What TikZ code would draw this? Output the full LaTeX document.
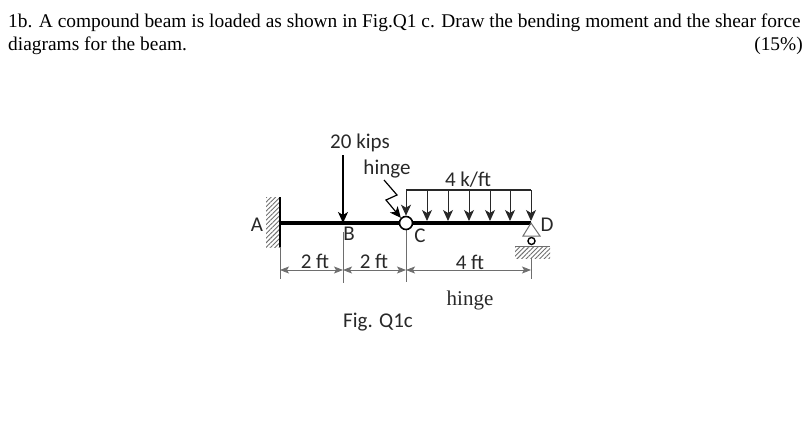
\documentclass[tikz,border=0pt]{standalone}
\usepackage{fontspec}
\setmainfont{Liberation Serif}
\newfontfamily\labelfont{Carlito}
\usetikzlibrary{patterns.meta, arrows.meta}
\definecolor{inkcolor}{RGB}{40, 40, 40}
\definecolor{dimcolor}{RGB}{110, 110, 110}
\tikzstyle{title} = [inner sep=0pt, anchor=base west, font=\fontsize{19.4}{20}\selectfont, text=black]
\tikzstyle{label} = [inner sep=0pt, font=\labelfont\fontsize{21}{22}\selectfont, text=inkcolor]
\tikzstyle{hatch} = [draw=none, pattern={Lines[angle=45,distance=3.2pt,line width=0.9pt]}, pattern color=dimcolor]
\tikzstyle{beam} = [line width=3.6pt, black]
\tikzstyle{arrow} = [->,>={Stealth[length=11pt,width=10pt,inset=3pt]}, draw=inkcolor]
\tikzstyle{dim} = [line width=0.8pt,<->,>={Stealth[length=9pt,width=7pt,inset=2pt]}, draw=dimcolor]
\tikzstyle{ext} = [line width=0.9pt, draw=dimcolor]
\begin{document}
\begin{tikzpicture}[x=1pt, y=-1pt]
        \useasboundingbox (0,0) rectangle (811,441);

        % question text
        \node (line1) [title] at (8,27.5) {1b. A compound beam is loaded as shown in Fig.Q1 c. Draw the bending moment and the shear force};
        \node (line2) [title] at (8,51) {diagrams for the beam.};
        \node (mark) [title, anchor=base east] at (803,51) {(15\%)};

        % wall and ground
        \fill [hatch] (266,197) rectangle (280,247);
        \fill [hatch] (515,246) rectangle (550,258);
        \draw [ext] (515,246) -- (550,246);

        \coordinate (A) at (280,223);
        \coordinate (B) at (343,223);
        \coordinate (D) at (531,223);
        \coordinate (wallTop) at (280,197);
        \coordinate (wallBot) at (280,247);

        % dimension lines
        \coordinate (e0) at (280,279);
        \coordinate (e1t) at (343,232);
        \coordinate (e1) at (343,283);
        \coordinate (e2) at (406,282);
        \coordinate (e3t) at (531,258);
        \coordinate (e3) at (531,279);
        \draw [ext] (A) -- (e0);
        \draw [ext] (e1t) -- (e1);
        \draw [ext] (406,223) -- (e2);
        \draw [ext] (e3t) -- (e3);
        \draw [dim] (280,270) -- (343,270);
        \draw [dim] (343,270) -- (406,270);
        \draw [dim] (406,270) -- (531,270);

        % beam
        \draw [line width=2.6pt, black] (wallTop) -- (wallBot);
        \draw [beam] (A) -- (D);
        \node (C) [circle, draw=black, fill=white, line width=1.6pt, minimum size=13pt, inner sep=0pt] at (406,223) {};

        % support at D
        \node (roller) [circle, draw=black, line width=1.4pt, minimum size=7pt, inner sep=0pt] at (531.5,241) {};
        \draw [ext, line width=1pt] (D) -- (523,236) -- (540,236) -- cycle;

        % point load
        \coordinate (loadTop) at (343,155);
        \draw [arrow, line width=1.5pt, black] (loadTop) -- (B);

        % distributed load
        \coordinate (q0) at (406,190);
        \coordinate (q1) at (531,190);
        \draw [line width=1.1pt, inkcolor] (q0) -- (q1);
        \draw [arrow, line width=1pt] (q0) -- (C.north);
        \foreach \x in {427,448,469,490,510,531}
            \draw [arrow, line width=1pt] (\x,190) -- (\x,221);

        % hinge pointer
        \coordinate (zig) at (384,180);
        \draw [arrow, line width=1.2pt, black] (zig) -- (397,195) -- (386,200) -- (C.135);

        % labels
        \node (kips) [label] at (360,143) {20 kips};
        \node (hinge) [label] at (387,169) {hinge};
        \node (rate) [label] at (468,180) {4 k/ft};
        \node (lA) [label] at (257,225) {A};
        \node (lB) [label] at (349,234) {B};
        \node (lC) [label] at (420,236) {C};
        \node (lD) [label] at (547,225) {D};
        \node (d1) [label] at (315,261) {2 ft};
        \node (d2) [label] at (374,261) {2 ft};
        \node (d3) [label] at (470,262) {4 ft};
        \node (hinge2) [inner sep=0pt, font=\fontsize{21}{22}\selectfont, text=inkcolor] at (470,300) {hinge};
        \node (fig) [label] at (378,322) {Fig. Q1c};
    \end{tikzpicture}
\end{document}
